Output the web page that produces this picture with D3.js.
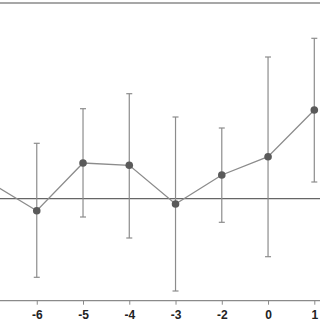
<!DOCTYPE html>
<html>
<head>
<meta charset="utf-8">
<script src="https://cdn.jsdelivr.net/npm/d3@7"></script>
<style>
  body { margin: 0; background: #fff; }
  svg { display: block; }
</style>
</head>
<body>
<div id="chart"></div>
<script>
// Data
const periods = ["-7", "-6", "-5", "-4", "-3", "-2", "0", "1"];
const estimates = [0.16, -0.12, 0.357, 0.334, -0.053, 0.237, 0.42, 0.887];
const upperCI = [0.75, 0.554, 0.90, 1.05, 0.817, 0.707, 1.417, 1.604];
const lowerCI = [-0.45, -0.786, -0.183, -0.393, -0.923, -0.236, -0.58, 0.167];

const data = periods.map((p, i) => ({
  period: p,
  est: estimates[i],
  hi: upperCI[i],
  lo: lowerCI[i]
}));

const width = 320;
const height = 320;

const svg = d3.select("#chart")
  .append("svg")
  .attr("width", width)
  .attr("height", height);

// Scales
const xScale = d3.scalePoint()
  .domain(periods)
  .range([-9.5, 314.3]);

const yScale = d3.scaleLinear()
  .domain([-1.02, 1.957])
  .range([300.7, 3]);

const lineColor = "#8c8c8c";
const dotColor = "#5a5a5a";

// Top frame line
svg.append("line")
  .attr("x1", 0).attr("x2", width)
  .attr("y1", yScale(1.957)).attr("y2", yScale(1.957))
  .attr("stroke", "#8a8a8a")
  .attr("stroke-width", 1.5);

// Bottom axis
const bottomAxis = d3.axisBottom(xScale)
  .tickSize(4)
  .tickPadding(6);
const axisG = svg.append("g")
  .attr("transform", `translate(0, ${yScale(-1.02)})`)
  .call(bottomAxis);
axisG.select(".domain")
  .attr("d", `M0,0H${width}`)
  .attr("stroke", "#8a8a8a")
  .attr("stroke-width", 1.2);
axisG.selectAll(".tick line")
  .attr("stroke", "#8a8a8a");
axisG.selectAll("text")
  .style("font-family", "'Liberation Sans', Arial, sans-serif")
  .style("font-size", "12px")
  .style("font-weight", "bold")
  .attr("fill", "#222");

// Zero line
svg.append("line")
  .attr("x1", 0).attr("x2", width)
  .attr("y1", yScale(0)).attr("y2", yScale(0))
  .attr("stroke", "#666")
  .attr("stroke-width", 1.3);

// Error bars
const bars = svg.selectAll(".err")
  .data(data)
  .join("g")
    .attr("class", "err");
bars.append("line")
  .attr("x1", d => xScale(d.period))
  .attr("x2", d => xScale(d.period))
  .attr("y1", d => yScale(d.lo))
  .attr("y2", d => yScale(d.hi))
  .attr("stroke", lineColor)
  .attr("stroke-width", 1.2);
bars.append("line")
  .attr("x1", d => xScale(d.period) - 3)
  .attr("x2", d => xScale(d.period) + 3)
  .attr("y1", d => yScale(d.hi))
  .attr("y2", d => yScale(d.hi))
  .attr("stroke", lineColor)
  .attr("stroke-width", 1.2);
bars.append("line")
  .attr("x1", d => xScale(d.period) - 3)
  .attr("x2", d => xScale(d.period) + 3)
  .attr("y1", d => yScale(d.lo))
  .attr("y2", d => yScale(d.lo))
  .attr("stroke", lineColor)
  .attr("stroke-width", 1.2);

// Connecting line
const lineGenerator = d3.line()
  .x(d => xScale(d.period))
  .y(d => yScale(d.est));
svg.append("path")
  .attr("d", lineGenerator(data))
  .attr("fill", "none")
  .attr("stroke", lineColor)
  .attr("stroke-width", 1.3);

// Points
svg.selectAll("circle")
  .data(data)
  .join("circle")
    .attr("cx", d => xScale(d.period))
    .attr("cy", d => yScale(d.est))
    .attr("r", 3.8)
    .attr("fill", dotColor);
</script>
</body>
</html>
